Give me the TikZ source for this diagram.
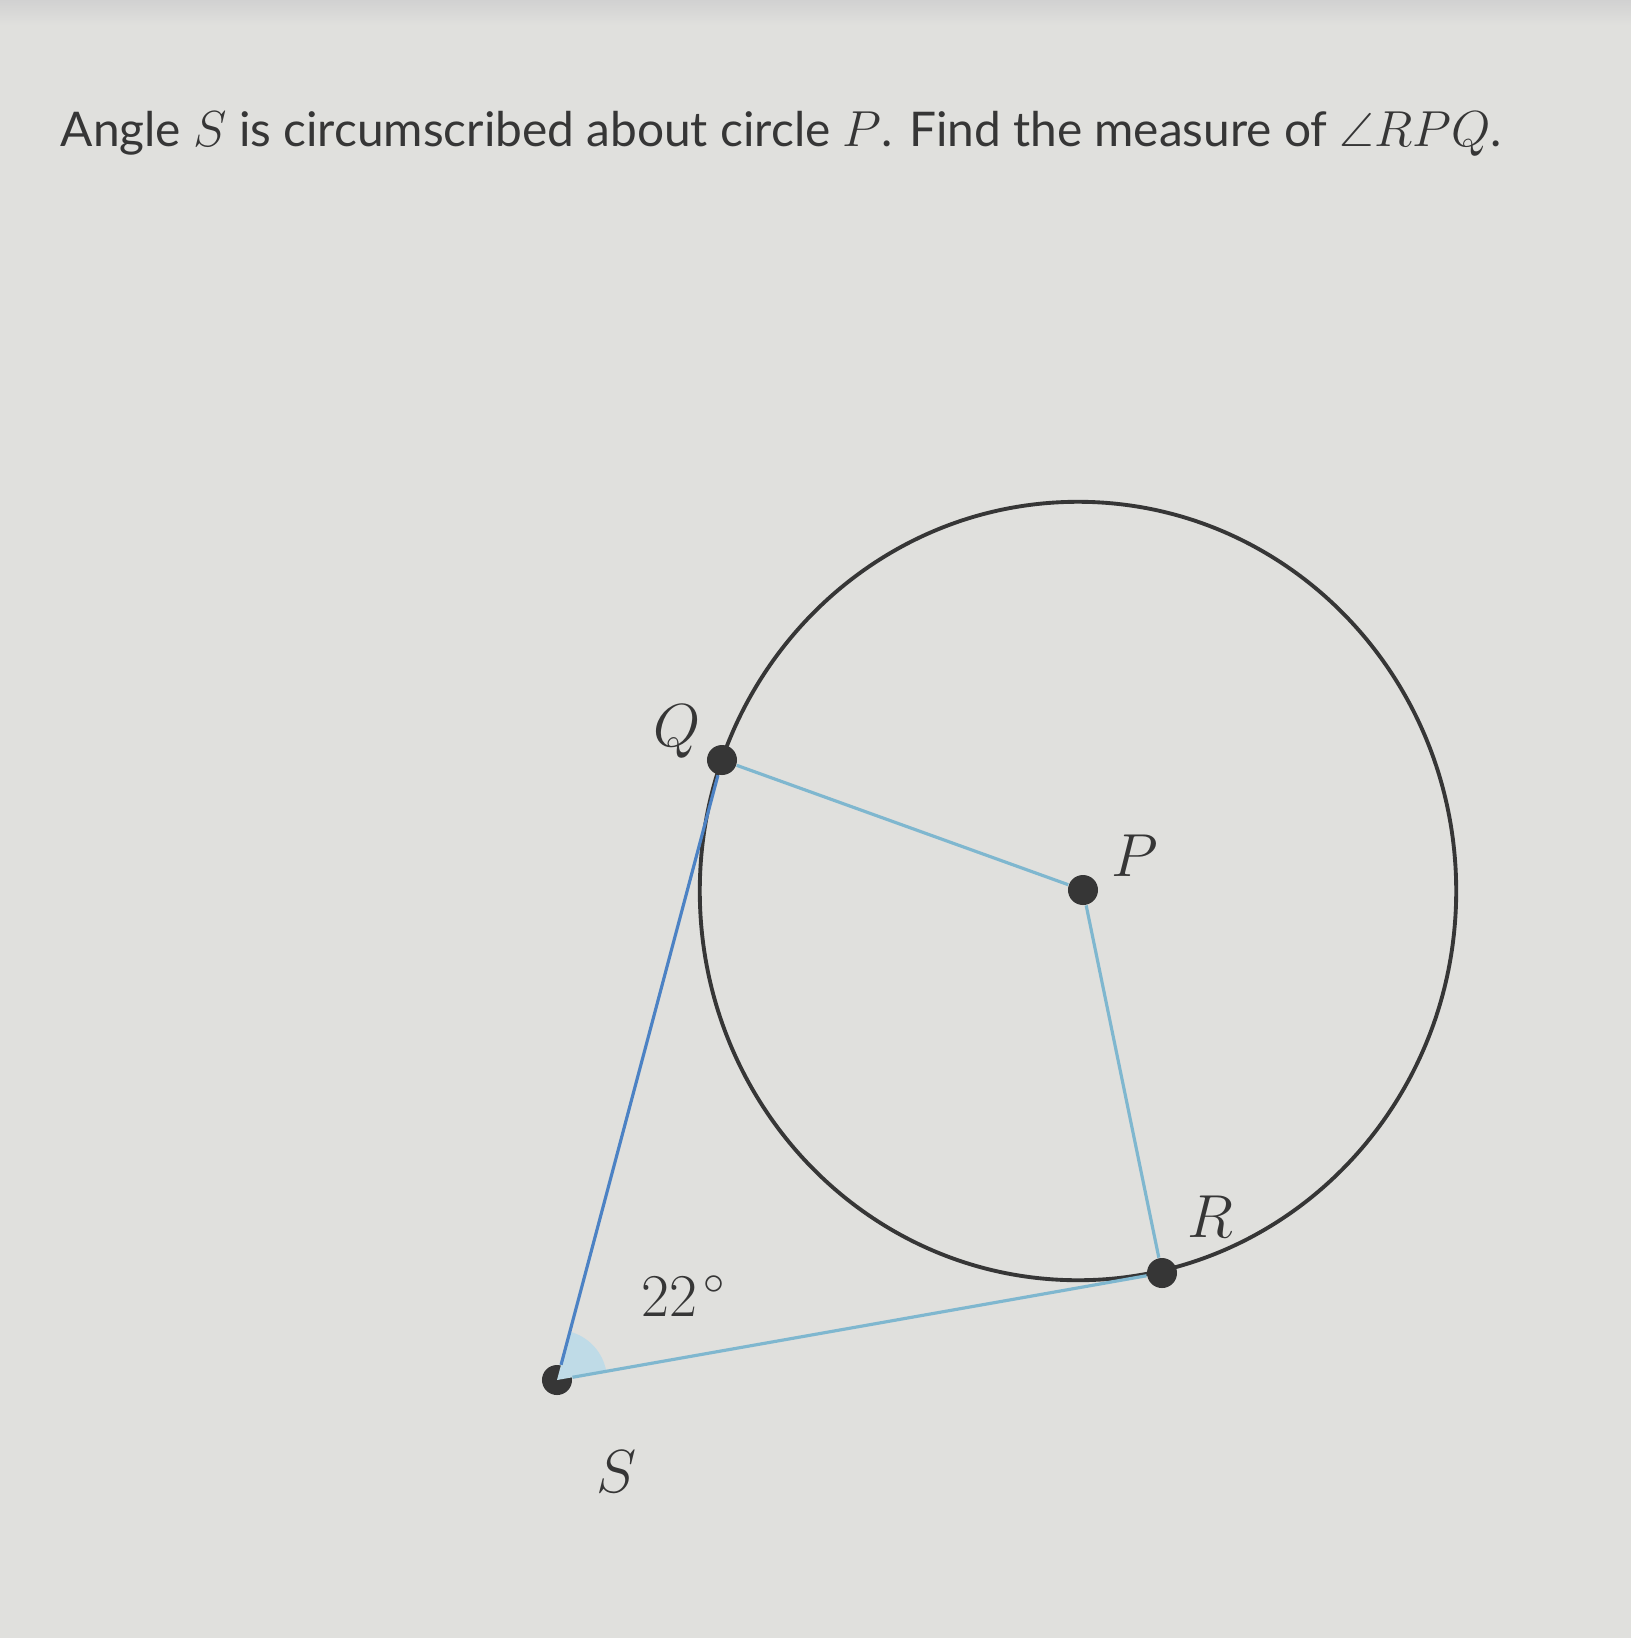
\documentclass[tikz,border=0pt]{standalone}
\usepackage{amsmath,amssymb}
\usepackage{fontspec}
\setmainfont{Lato}
\usepackage{tikz}
\usetikzlibrary{calc}
\usetikzlibrary{angles}
\definecolor{bgcol}{HTML}{E0E0DD}
\definecolor{inkcol}{HTML}{363636}
\definecolor{segcol}{HTML}{7FB7CF}
\definecolor{tancol}{HTML}{4C82C4}
\newcommand{\dotpt}[3]{\node[shape=circle,draw=none,fill=inkcol,inner sep=0pt,minimum size=0.3cm] (#1) at ( #2 , #3 ) {};}
\newcommand{\lbl}[4]{\node[text=inkcol,inner sep=0pt,font=\fontsize{17}{20}\selectfont] (#1) at ( #2 , #3 ) {#4};}

\begin{document}
\begin{tikzpicture}[x=0.01cm,y=-0.01cm]
    \fill[bgcol] (0,0) rectangle (1631,1638);
    \shade[top color=black!18, bottom color=bgcol] (0,0) rectangle (1631,25);
    \useasboundingbox (0,0) rectangle (1631,1638);
    % title
    \node[anchor=base west,inner sep=0pt,text=inkcol,font=\fontsize{13.6}{16}\selectfont] (title) at (60,146)
        {Angle $S$ is circumscribed about circle $P$. Find the measure of $\angle RPQ$.};
    % points
    \dotpt{Q}{722}{760}
    \dotpt{P}{1083}{890}
    \dotpt{R}{1162}{1273}
    \dotpt{S}{557}{1380}
    % angle at S
    \pic[draw=none,fill=segcol!50,angle radius=0.5cm] {angle=R--S--Q};
    % circle
    \draw[inkcol,line width=1.1pt] (1078,891) ellipse [x radius=3.78cm, y radius=3.89cm];
    % segments
    \draw[segcol,line width=0.9pt] (Q) -- (P) -- (R);
    \draw[segcol,line width=0.9pt] (S) -- (R);
    \draw[tancol,line width=0.9pt] (S) -- (Q);
    % labels
    \lbl{lQ}{677}{732}{$Q$}
    \lbl{lP}{1135}{856}{$P$}
    \lbl{lR}{1210}{1217}{$R$}
    \lbl{lS}{617}{1472}{$S$}
    \lbl{lang}{684}{1296}{$22^{\,\circ}$}
\end{tikzpicture}
\end{document}
